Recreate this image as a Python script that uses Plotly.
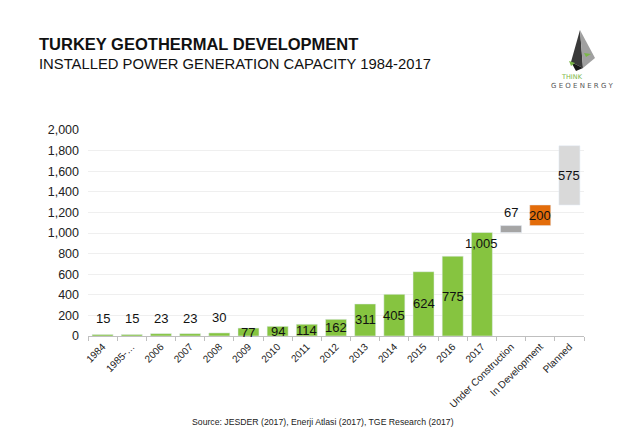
import plotly.graph_objects as go

categories = ["1984", "1985-…", "2006", "2007", "2008", "2009", "2010", "2011", "2012",
              "2013", "2014", "2015", "2016", "2017",
              "Under Construction", "In Development", "Planned"]
installed = [15, 15, 23, 23, 30, 77, 94, 114, 162, 311, 405, 624, 775, 1005]
pipeline_labels = ["Under Construction", "In Development", "Planned"]
pipeline_values = [67, 200, 575]
y_ticks = [0, 200, 400, 600, 800, 1000, 1200, 1400, 1600, 1800, 2000]

GREEN = "#86C440"
pipe_colors = ["#A5A5A5", "#E36C0A", "#D9D9D9"]
FONT = "Liberation Sans, Arial, sans-serif"

fig = go.Figure()
fig.add_trace(go.Bar(x=categories[:len(installed)], y=installed, marker_color=GREEN,
                     width=0.72, hoverinfo="skip"))
bases = []
b = installed[-1]
for v in pipeline_values:
    bases.append(b)
    b += v
fig.add_trace(go.Bar(x=pipeline_labels, y=pipeline_values, base=bases,
                     marker_color=pipe_colors, width=0.72, hoverinfo="skip"))

anns = []
for i, v in enumerate(installed):
    if v < 50:
        anns.append(dict(x=i, y=v, text=f"{v:,}", yanchor="bottom", yshift=6, showarrow=False))
    elif v >= 1000:
        anns.append(dict(x=i, y=v, text=f"{v:,}", yanchor="top", yshift=-2, showarrow=False))
    else:
        anns.append(dict(x=i, y=v / 2, text=f"{v:,}", yanchor="middle", showarrow=False))
for j, (v, bs) in enumerate(zip(pipeline_values, bases)):
    i = len(installed) + j
    if v < 100:
        anns.append(dict(x=i, y=bs + v, text=f"{v:,}", yanchor="bottom", yshift=4, showarrow=False))
    else:
        anns.append(dict(x=i, y=bs + v / 2, text=f"{v:,}", yanchor="middle", showarrow=False))
for a in anns:
    a["font"] = dict(size=13, color="#111111", family=FONT)

# titles / source / logo text
anns += [
    dict(xref="paper", yref="paper", x=-0.103, y=1.0, xanchor="left", yanchor="bottom",
         yshift=75, text="<b>TURKEY GEOTHERMAL DEVELOPMENT</b>", showarrow=False,
         font=dict(size=16.5, color="#111111", family=FONT)),
    dict(xref="paper", yref="paper", x=-0.103, y=1.0, xanchor="left", yanchor="bottom",
         yshift=56, text="INSTALLED POWER GENERATION CAPACITY 1984-2017", showarrow=False,
         font=dict(size=14.8, color="#111111", family=FONT)),
    dict(xref="paper", yref="paper", x=0.4745, y=0, xanchor="center", yanchor="top",
         yshift=-79, text="Source: JESDER (2017), Enerji Atlasi (2017), TGE Research (2017)",
         showarrow=False, font=dict(size=8.7, color="#222222", family=FONT)),
    dict(xref="paper", yref="paper", x=0.975, y=1.0, xanchor="center", yanchor="middle",
         yshift=53, text="THINK", showarrow=False,
         font=dict(size=6.5, color="#7AB648", family="DejaVu Sans, sans-serif")),
    dict(xref="paper", yref="paper", x=0.997, y=1.0, xanchor="center", yanchor="middle",
         yshift=44, text="G E O E N E R G Y", showarrow=False,
         font=dict(size=7, color="#555555", family="DejaVu Sans, sans-serif")),
]

# logo (paper coords: x = (px-88)/496, y = (336-py)/206)
def px(xp, yp):
    return f"{(xp - 88) / 496:.4f} {(336 - yp) / 206:.4f}"

shapes = [
    dict(type="path", xref="paper", yref="paper",
         path=f"M {px(580, 30)} L {px(571, 62)} L {px(583, 68)} Z",
         fillcolor="#3A3A3A", line=dict(width=0)),
    dict(type="path", xref="paper", yref="paper",
         path=f"M {px(580, 30)} L {px(595, 58)} L {px(583, 68)} Z",
         fillcolor="#A0A0A0", line=dict(width=0)),
    dict(type="path", xref="paper", yref="paper",
         path=f"M {px(571, 62)} L {px(583, 68)} L {px(576, 71)} Z",
         fillcolor="#1A1A1A", line=dict(width=0)),
    dict(type="path", xref="paper", yref="paper",
         path=f"M {px(584, 53)} L {px(591, 54)} L {px(586, 57)} Z",
         fillcolor="#7AB648", line=dict(width=0)),
    dict(type="path", xref="paper", yref="paper",
         path=f"M {px(569, 61)} L {px(575, 63)} L {px(571, 66)} Z",
         fillcolor="#7AB648", line=dict(width=0)),
]

fig.update_layout(
    width=638, height=442,
    margin=dict(l=88, r=54, t=130, b=106),
    paper_bgcolor="white", plot_bgcolor="white",
    showlegend=False, bargap=0.28,
    annotations=anns, shapes=shapes,
    font=dict(family=FONT, color="#222222"),
    xaxis=dict(type="category", categoryorder="array", categoryarray=categories,
               range=[-0.5, len(categories) - 0.5], tickangle=-45,
               tickfont=dict(size=10, color="#222222"),
               showline=True, linecolor="#BFBFBF", linewidth=1,
               ticks="outside", tickson="boundaries", ticklen=4, tickcolor="#BFBFBF",
               showgrid=False, automargin=False),
    yaxis=dict(range=[0, 2000], tickvals=y_ticks, tickformat=",",
               tickfont=dict(size=12.5, color="#222222"), ticklabelstandoff=8,
               showgrid=True, gridcolor="#EFEFEF", gridwidth=1, zeroline=False,
               ticks="", automargin=False),
)

fig.write_html("out.html", post_script="document.body.style.margin='0';",
               config={"displayModeBar": False})
